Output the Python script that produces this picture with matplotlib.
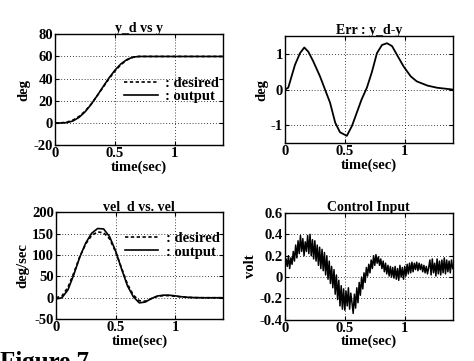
import matplotlib
matplotlib.use("Agg")
import matplotlib.pyplot as plt
from matplotlib.ticker import FuncFormatter

plt.rcParams['font.family'] = ['Liberation Serif', 'DejaVu Serif']
plt.rcParams['font.weight'] = 'bold'
plt.rcParams['axes.labelweight'] = 'bold'
plt.rcParams['axes.titleweight'] = 'bold'

# ---------------- data ----------------
t_pos = [0.0, 0.05, 0.1, 0.15, 0.2, 0.25, 0.3, 0.35, 0.4, 0.45, 0.5, 0.55, 0.6, 0.65,
         0.7, 0.75, 0.8, 0.85, 0.9, 0.95, 1.0, 1.05, 1.1, 1.15, 1.2, 1.25, 1.3, 1.35, 1.4]
pos_desired = [0, 0.1, 0.8, 2.6, 5.8, 10.5, 16.8, 24.2, 32.0, 39.8, 46.8, 52.6, 56.8, 59.2,
               60.0, 60, 60, 60, 60, 60, 60, 60, 60, 60, 60, 60, 60, 60, 60]
pos_output = [0, 0.0, 0.3, 1.8, 5.0, 9.9, 16.5, 24.3, 32.5, 40.5, 47.6, 53.3, 57.2, 59.4,
              60.0, 60, 60, 60, 60, 60, 60, 60, 60, 60, 60, 60, 60, 60, 60]

t_err = [0.0, 0.028, 0.056, 0.084, 0.126, 0.162, 0.196, 0.237, 0.293, 0.335, 0.377, 0.42,
         0.46, 0.517, 0.56, 0.6, 0.64, 0.684, 0.726, 0.768, 0.81, 0.852, 0.894, 0.936,
         0.99, 1.05, 1.1, 1.19, 1.27, 1.4]
err = [0.0, 0.05, 0.37, 0.69, 1.02, 1.18, 1.06, 0.79, 0.37, 0.0, -0.37, -0.93,
       -1.2, -1.3, -1.02, -0.65, -0.28, 0.05, 0.49, 1.02, 1.25, 1.3, 1.22, 0.97,
       0.65, 0.37, 0.23, 0.11, 0.05, 0.0]

t_vel = t_pos
vel_desired = [0, 4, 24, 58, 96, 126, 146, 154, 152, 138, 108, 70, 32, 6, -7, -8, -2, 3, 5, 5,
               3.5, 2, 1, 0.4, 0.1, 0, 0, 0, 0]
vel_output = [-3, 0, 18, 54, 95, 128, 151, 162, 161, 143, 110, 68, 28, 2, -12, -10, -2, 4, 6, 6,
              4.5, 2.5, 1.2, 0.5, 0.2, 0, 0, 0, 0]

u_values = [0.08, 0.17, 0.10, 0.20, 0.08, 0.18, 0.12, 0.24, 0.15, 0.30,
            0.18, 0.34, 0.22, 0.39, 0.24, 0.36, 0.20, 0.33, 0.24, 0.39,
            0.22, 0.40, 0.20, 0.35, 0.17, 0.34, 0.15, 0.30, 0.11, 0.28,
            0.08, 0.26, 0.06, 0.23, 0.02, 0.20, -0.02, 0.15, -0.06, 0.10,
            -0.10, 0.07, -0.16, 0.02, -0.21, -0.03, -0.27, -0.08, -0.30, -0.11,
            -0.31, -0.13, -0.27, -0.10, -0.30, -0.15, -0.24, -0.34, -0.16, -0.29,
            -0.10, -0.24, -0.05, -0.17, 0.00, -0.11, 0.04, -0.05, 0.09, 0.01,
            0.12, 0.04, 0.16, 0.08, 0.20, 0.11, 0.21, 0.13, 0.19, 0.11,
            0.17, 0.08, 0.15, 0.05, 0.13, 0.03, 0.11, 0.01, 0.10, 0.00,
            0.09, -0.01, 0.10, -0.02, 0.08, -0.03, 0.11, 0.00, 0.09, -0.02,
            0.10, 0.01, 0.12, 0.03, 0.13, 0.04, 0.14, 0.05, 0.13, 0.07,
            0.14, 0.06, 0.13, 0.07, 0.12, 0.05, 0.11, 0.04, 0.10, 0.03,
            0.09, 0.16, 0.02, 0.17, 0.04, 0.13, 0.01, 0.17, 0.03, 0.15,
            0.02, 0.16, 0.04, 0.18, 0.03, 0.16, 0.05, 0.15, 0.04, 0.16,
            0.08]
t_u = [i * 0.01 for i in range(len(u_values))]

titles = ["y_d vs y", "Err : y_d-y", "vel_d vs. vel", "Control Input"]
ylabels = ["deg", "deg", "deg/sec", "volt"]
xticks = [0, 0.5, 1]
yticks = [[-20, 0, 20, 40, 60, 80], [-1, 0, 1], [-50, 0, 50, 100, 150, 200],
          [-0.4, -0.2, 0, 0.2, 0.4, 0.6]]
ylims = [(-20, 80), (-1.5, 1.5), (-50, 200), (-0.4, 0.6)]

# ---------------- figure ----------------
fig = plt.figure(figsize=(4.74, 3.61), dpi=100)
rects = [[0.116, 0.598, 0.354, 0.307],
         [0.601, 0.604, 0.354, 0.296],
         [0.118, 0.116, 0.352, 0.296],
         [0.601, 0.114, 0.354, 0.296]]
axes = [fig.add_axes(r) for r in rects]

def fmt(v, _):
    return '%g' % v

for i, ax in enumerate(axes):
    ax.set_xlim(0, 1.4)
    ax.set_ylim(*ylims[i])
    ax.set_xticks(xticks)
    ax.set_yticks(yticks[i])
    ax.xaxis.set_major_formatter(FuncFormatter(fmt))
    ax.yaxis.set_major_formatter(FuncFormatter(fmt))
    ax.tick_params(direction='in', top=True, right=True, labelsize=10.5, length=3,
                   width=0.8, pad=1.5)
    ax.grid(True, linestyle=(0, (1, 2.5)), color='black', linewidth=0.6)
    ax.set_title(titles[i], fontsize=10, pad=1.5)
    ax.set_ylabel(ylabels[i], fontsize=10.5, labelpad=2)
    ax.set_xlabel("time(sec)", fontsize=10.5, labelpad=0)
    for s in ax.spines.values():
        s.set_linewidth(1.0)

ax = axes[0]
ax.plot(t_pos, pos_desired, color='black', linestyle=(0, (2, 1.5)), linewidth=1.2, label=': desired')
ax.plot(t_pos, pos_output, color='black', linewidth=1.2, label=': output')
ax.legend(loc='center left', bbox_to_anchor=(0.37, 0.5), frameon=False, fontsize=10.5,
          handlelength=2.3, handletextpad=0.5, labelspacing=0.0, borderpad=0)

ax = axes[1]
ax.plot(t_err, err, color='black', linewidth=1.3)

ax = axes[2]
ax.plot(t_vel, vel_desired, color='black', linestyle=(0, (2, 1.5)), linewidth=1.2, label=': desired')
ax.plot(t_vel, vel_output, color='black', linewidth=1.2, label=': output')
ax.legend(loc='center left', bbox_to_anchor=(0.37, 0.69), frameon=False, fontsize=10.5,
          handlelength=2.3, handletextpad=0.5, labelspacing=0.0, borderpad=0)

ax = axes[3]
ax.plot(t_u, u_values, color='black', linewidth=1.1)

fig.text(0.0, 0.028, "Figure 7.", fontsize=18, fontweight='bold', ha='left', va='top')

fig.savefig("out.png", dpi=100)
